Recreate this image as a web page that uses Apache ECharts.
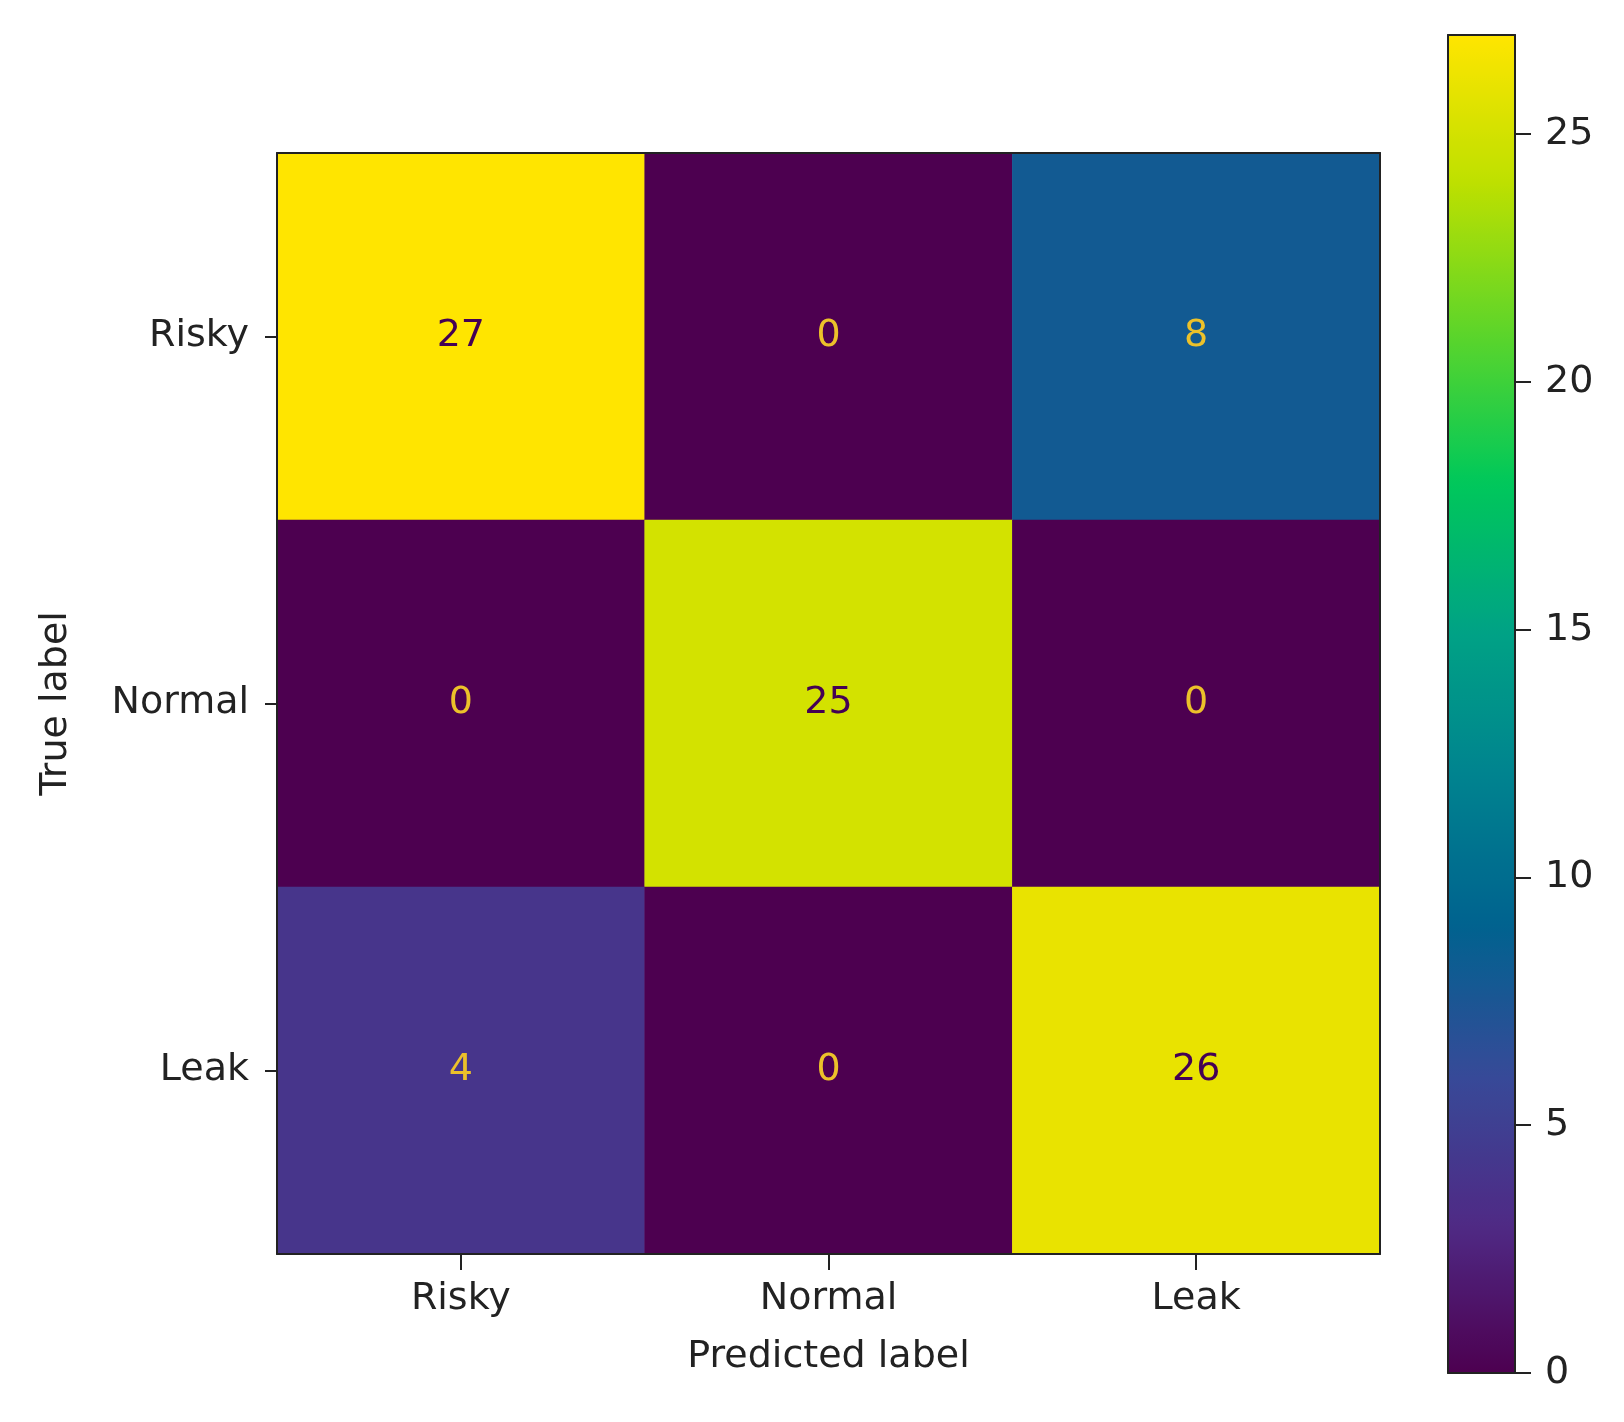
<!DOCTYPE html>
<html>
<head>
<meta charset="utf-8">
<script src="https://cdn.jsdelivr.net/npm/echarts@6/dist/echarts.min.js"></script>
<style>
  html, body { margin: 0; padding: 0; background: #fff; }
  #chart { width: 1624px; height: 1422px; }
</style>
</head>
<body>
<div id="chart"></div>
<script>
// class names, same order on both axes
const classes = ['Risky', 'Normal', 'Leak'];
// confusion matrix rows = true label, columns = predicted label
const rowRisky = [27, 0, 8];
const rowNormal = [0, 25, 0];
const rowLeak = [4, 0, 26];
const colorbarTicks = [0, 5, 10, 15, 20, 25];
const colorMin = 0;
const colorMax = 27;

// viridis, a bit shifted to match the picture
const viridis = ['#4d0050', '#4f2a85', '#374a98', '#00628f', '#00828f',
                 '#00a385', '#00c85a', '#5dd52a', '#bde000', '#ffe500'];

const FONT = 'DejaVu Sans';
const matrix = [rowRisky, rowNormal, rowLeak];

// heatmap data [predicted, true, count]
const cells = [];
matrix.forEach((row, i) => {
    row.forEach((v, j) => {
        cells.push({
            value: [j, i, v],
            label: { color: v > (colorMax - colorMin) / 2 ? '#440154' : '#ecc12a' }
        });
    });
});

// colorbar box
const cbTop = 35, cbHeight = 1338;
// the tick axis only spans 0..last tick so no extra tick at the max
const lastTick = colorbarTicks[colorbarTicks.length - 1];
const tickHeight = cbHeight * (lastTick - colorMin) / (colorMax - colorMin);

const myChart = echarts.init(document.getElementById('chart'));

const axisLineStyle = { show: true, onZero: false, lineStyle: { color: '#222', width: 2 } };
const noTick = { show: false };
const noLabel = { show: false };

const option = {
    backgroundColor: '#fff',
    animation: false,
    grid: [
        { left: 277, top: 153, width: 1103, height: 1101 },
        { left: 1448, top: cbTop, width: 67, height: cbHeight },
        { left: 1448, top: cbTop + cbHeight - tickHeight, width: 67, height: tickHeight }
    ],
    xAxis: [
        {
            type: 'category', data: classes, gridIndex: 0, position: 'bottom',
            name: 'Predicted label', nameLocation: 'middle', nameGap: 84,
            nameTextStyle: { fontFamily: FONT, fontSize: 38, color: '#222' },
            axisLine: axisLineStyle, z: 10,
            axisTick: { show: true, inside: false, alignWithLabel: true, length: 16, lineStyle: { color: '#222', width: 2 } },
            axisLabel: { fontFamily: FONT, fontSize: 38, color: '#222', margin: 26 },
            splitLine: { show: false }
        },
        {
            type: 'category', data: classes, gridIndex: 0, position: 'top',
            axisLine: axisLineStyle, axisTick: noTick, axisLabel: noLabel, z: 10
        },
        {
            type: 'value', gridIndex: 1, position: 'bottom', min: 0, max: 1,
            axisLine: axisLineStyle, axisTick: noTick, axisLabel: noLabel,
            splitLine: { show: false }, z: 10
        },
        {
            type: 'value', gridIndex: 1, position: 'top', min: 0, max: 1,
            axisLine: axisLineStyle, axisTick: noTick, axisLabel: noLabel,
            splitLine: { show: false }, z: 10
        },
        {
            type: 'value', gridIndex: 2, show: false, min: 0, max: 1,
            axisLine: { onZero: false }
        }
    ],
    yAxis: [
        {
            type: 'category', data: classes, gridIndex: 0, inverse: true, position: 'left',
            name: 'True label', nameLocation: 'middle', nameGap: 202, nameRotate: 90,
            nameTextStyle: { fontFamily: FONT, fontSize: 38, color: '#222' },
            axisLine: axisLineStyle, z: 10,
            axisTick: { show: true, inside: false, alignWithLabel: true, length: 12, lineStyle: { color: '#222', width: 2 } },
            axisLabel: { fontFamily: FONT, fontSize: 38, color: '#222', margin: 28 },
            splitLine: { show: false }
        },
        {
            type: 'category', data: classes, gridIndex: 0, inverse: true, position: 'right',
            axisLine: axisLineStyle, axisTick: noTick, axisLabel: noLabel, z: 10
        },
        {
            type: 'value', gridIndex: 1, position: 'right', min: colorMin, max: colorMax,
            axisLine: axisLineStyle, axisTick: noTick, axisLabel: noLabel,
            splitLine: { show: false }, z: 10
        },
        {
            type: 'value', gridIndex: 1, position: 'left', min: colorMin, max: colorMax,
            axisLine: axisLineStyle, axisTick: noTick, axisLabel: noLabel,
            splitLine: { show: false }, z: 10
        },
        {
            // colorbar ticks and labels
            type: 'value', gridIndex: 2, position: 'right', min: colorMin, max: lastTick, interval: 5,
            axisLine: { show: false, onZero: false }, z: 10,
            axisTick: { show: true, inside: false, length: 16, lineStyle: { color: '#222', width: 2 } },
            axisLabel: { fontFamily: FONT, fontSize: 38, color: '#222', margin: 30 },
            splitLine: { show: false }
        }
    ],
    visualMap: {
        type: 'continuous',
        min: colorMin,
        max: colorMax,
        seriesIndex: 0,
        calculable: false,
        showLabel: false,
        text: null,
        orient: 'vertical',
        left: 1448,
        top: cbTop,
        padding: 0,
        itemWidth: 67,
        itemHeight: cbHeight,
        inRange: { color: viridis }
    },
    series: [
        {
            type: 'heatmap',
            xAxisIndex: 0,
            yAxisIndex: 0,
            data: cells,
            label: {
                show: true,
                fontFamily: FONT,
                fontSize: 38,
                formatter: p => p.value[2]
            },
            emphasis: { disabled: true }
        }
    ]
};

myChart.setOption(option);
</script>
</body>
</html>
